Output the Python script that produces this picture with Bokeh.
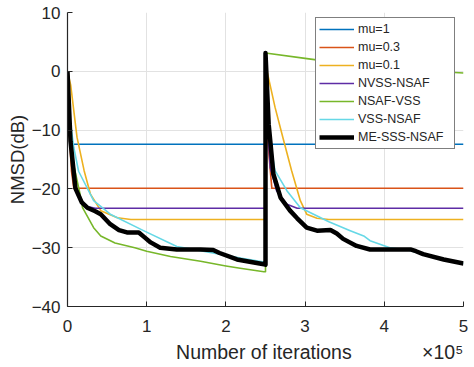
from bokeh.plotting import figure
from bokeh.models import Legend, LegendItem, FixedTicker, Range1d
from bokeh.embed import file_html
from bokeh.resources import INLINE

# x values in units of 10^5 iterations, y values NMSD in dB
mu1_x = [0, 0.01, 0.025, 0.05, 2.5, 2.5, 2.51, 2.525, 2.55, 5.0]
mu1_y = [0, -6, -11, -12.4, -12.4, 3, -8, -11.5, -12.4, -12.4]

mu03_x = [0, 0.02, 0.05, 0.08, 2.5, 2.5, 2.53, 2.58, 5.0]
mu03_y = [0, -10, -17, -19.9, -19.9, 3, -12, -19.9, -19.9]

mu01_x = [0, 0.04, 0.12, 0.21, 0.29, 0.42, 0.63, 0.8, 2.5, 2.5, 2.52, 2.62, 2.73, 2.83, 2.94, 3.02, 3.15, 3.3, 5.0]
mu01_y = [0, -2.3, -11.2, -16.9, -20.9, -23.7, -24.9, -25.2, -25.2, 3, 0, -6.1, -11.8, -16.9, -22, -24.3, -25.0, -25.2, -25.2]

nvss_x = [0, 0.03, 0.08, 0.16, 0.25, 0.35, 2.5, 2.5, 2.53, 2.56, 2.64, 2.77, 2.9, 5.0]
nvss_y = [0, -9, -18.6, -22, -23, -23.3, -23.3, 3, -10, -16.4, -20.3, -22.6, -23.3, -23.3]

nsafvss_x = [0, 0.03, 0.08, 0.16, 0.19, 0.33, 0.42, 0.6, 0.85, 1.0, 1.3, 1.68, 2.0, 2.18, 2.48, 2.5, 2.5, 3.0, 3.5, 4.0, 4.5, 5.0]
nsafvss_y = [0, -10, -16, -21, -23.2, -26.6, -28, -29.2, -30, -30.6, -31.5, -32.3, -33.1, -33.5, -34.1, -34.1, 3.1, 2.2, 1.3, 0.6, 0.1, -0.3]

vssnsaf_x = [0, 0.03, 0.08, 0.14, 0.33, 0.54, 0.96, 1.38, 1.8, 2.2, 2.5, 2.5, 2.52, 2.56, 2.62, 2.77, 2.94, 3.3, 3.57, 3.74, 3.82, 4.07, 4.3, 4.5, 4.75, 5.0]
vssnsaf_y = [0, -8, -13, -17, -22, -24.3, -27.1, -29.8, -30.8, -31.8, -32.5, 3, -5, -12, -16.9, -20.3, -23.2, -25.6, -27.1, -28, -28.8, -30, -30.4, -31.2, -32, -32.7]

me_x = [0, 0.038, 0.1, 0.18, 0.25, 0.35, 0.42, 0.54, 0.65, 0.75, 0.9, 0.97, 1.05, 1.17, 1.38, 1.68, 1.84, 1.92, 2.14, 2.3, 2.48, 2.5,
        2.5, 2.54, 2.56, 2.6, 2.69, 2.81, 2.9, 3.02, 3.15, 3.32, 3.4, 3.48, 3.65, 3.82, 4.33, 4.4, 4.49, 4.75, 5.0]
me_y = [0, -11.9, -19.9, -22.3, -23.2, -23.8, -24.3, -26, -27, -27.4, -27.4, -28.2, -29.1, -30, -30.3, -30.3, -30.4, -30.9, -32, -32.4, -32.8, -32.9,
        3.1, -9, -11.8, -17.5, -21.5, -23.7, -25.0, -26.6, -27.1, -27.0, -27.6, -28.5, -29.7, -30.3, -30.3, -30.6, -31.1, -32, -32.7]

x_ticks = [0, 1, 2, 3, 4, 5]
y_ticks = [-40, -30, -20, -10, 0, 10]

series = [
    ("mu=1", mu1_x, mu1_y, "#0072BD", 1.6),
    ("mu=0.3", mu03_x, mu03_y, "#D95319", 1.6),
    ("mu=0.1", mu01_x, mu01_y, "#EDB120", 1.6),
    ("NVSS-NSAF", nvss_x, nvss_y, "#5E2CA5", 1.6),
    ("NSAF-VSS", nsafvss_x, nsafvss_y, "#77B72A", 1.6),
    ("VSS-NSAF", vssnsaf_x, vssnsaf_y, "#66D8E6", 1.6),
    ("ME-SSS-NSAF", me_x, me_y, "#000000", 4.5),
]

FONT = "Liberation Sans"
TXT = "#262626"
NB = "\u00a0"

p = figure(width=474, height=367, output_backend="svg", toolbar_location=None,
           x_range=Range1d(0, 5), y_range=Range1d(-40, 10),
           min_border_left=67, min_border_right=11, min_border_top=12, min_border_bottom=61)
p.background_fill_color = "white"
p.border_fill_color = "white"
p.outline_line_color = None

items = []
for name, xs, ys, col, lw in series:
    r = p.line(xs, ys, line_color=col, line_width=lw, line_join="round")
    items.append(LegendItem(label=name, renderers=[r]))

p.xaxis.ticker = FixedTicker(ticks=x_ticks)
p.yaxis.ticker = FixedTicker(ticks=y_ticks)
for ax in (p.xaxis[0], p.yaxis[0]):
    ax.axis_line_color = TXT
    ax.axis_line_width = 1.2
    ax.major_tick_line_color = TXT
    ax.major_tick_in = 5
    ax.major_tick_out = 0
    ax.minor_tick_line_color = None
    ax.major_label_text_font = FONT
    ax.major_label_text_font_size = "17px"
    ax.major_label_text_color = TXT
    ax.axis_label_text_font = FONT
    ax.axis_label_text_font_style = "normal"
    ax.axis_label_text_color = TXT

# x-axis label carries the MATLAB-style exponent "×10⁵" at the right end
p.xaxis.axis_label = NB * 20 + "Number of iterations" + NB * 13 + "×10⁵"
p.xaxis.axis_label_text_font_size = "19.5px"
p.yaxis.axis_label = "NMSD(dB)"
p.yaxis.axis_label_text_font_size = "18.5px"
p.xaxis.major_label_standoff = 13
p.xaxis.axis_label_standoff = 6
p.yaxis.major_label_standoff = 7
p.yaxis.axis_label_standoff = 1

p.xgrid.grid_line_color = "#e2e2e2"
p.ygrid.grid_line_color = "#e2e2e2"

legend = Legend(items=items, location=(248, 157))
legend.border_line_color = "black"
legend.border_line_width = 1
legend.background_fill_color = "white"
legend.background_fill_alpha = 1
legend.label_text_font = FONT
legend.label_text_font_size = "12.5px"
legend.label_text_color = TXT
legend.glyph_width = 35
legend.glyph_height = 16
legend.label_height = 16
legend.label_width = 93
legend.label_standoff = 4
legend.spacing = 2
legend.padding = 3
legend.margin = 0
p.add_layout(legend, "center")

open("out.html", "w").write(file_html(p, INLINE))
